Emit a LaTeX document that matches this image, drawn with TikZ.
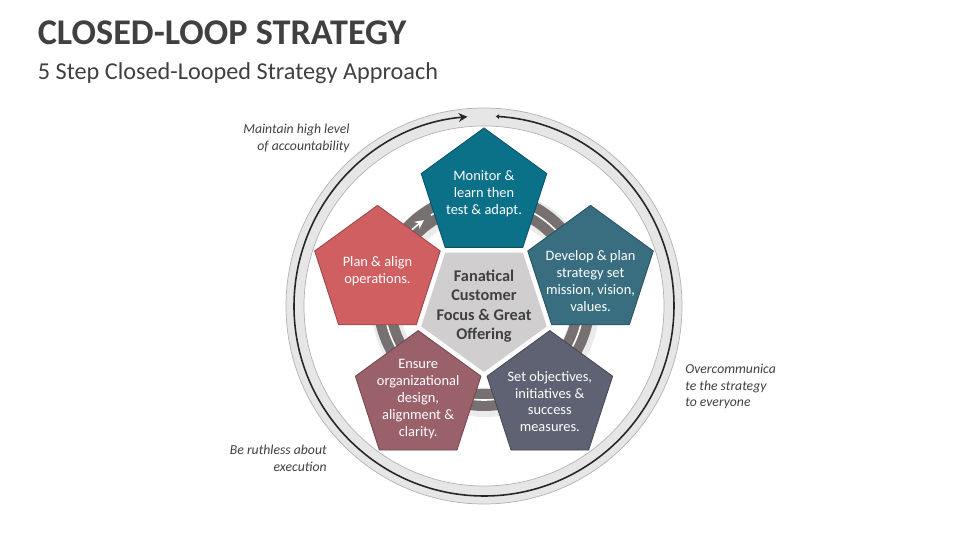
\documentclass[tikz,border=0pt]{standalone}
\usepackage{fontspec}
\setmainfont{Carlito}
\usepackage{xcolor}
\usetikzlibrary{shapes.geometric, arrows.meta, positioning}

\definecolor{titlegray}{HTML}{404040}
\definecolor{monitorteal}{HTML}{0B7189}
\definecolor{developblue}{HTML}{386E80}
\definecolor{objslate}{HTML}{5F6272}
\definecolor{ensuremauve}{HTML}{9A616A}
\definecolor{planred}{HTML}{CF5F61}
\definecolor{corefill}{HTML}{D0CECE}
\definecolor{ringgray}{HTML}{767170}
\definecolor{bandgray}{HTML}{E7E6E6}

\tikzset{
    petal/.style={regular polygon, regular polygon sides=5, minimum size=2.64cm,
        inner sep=0pt, fill=#1, draw=#1!75!black, line width=0.5pt},
    petaltext/.style={text=white, align=center, inner sep=0pt,
        font=\fontsize{8.2}{9.6}\selectfont},
    sidenote/.style={text=titlegray, inner sep=0pt,
        font=\fontsize{7.8}{9.4}\selectfont\itshape}
}

\begin{document}
\begin{tikzpicture}[>=Stealth]
    \useasboundingbox (-9.68,-4.68) rectangle (9.52,6.12);

    % 1. Tiêu đề
    \node[anchor=base west, inner sep=0pt, text=titlegray,
        font=\fontsize{20.6}{24}\selectfont\bfseries] (title) at (-8.93,5.22) {CLOSED-LOOP STRATEGY};
    \node[anchor=base west, inner sep=0pt, text=titlegray,
        font=\fontsize{13.8}{16}\selectfont] (subtitle) at (-8.93,4.53) {5 Step Closed-Looped Strategy Approach};

    % 2. Vòng ngoài
    \draw[black!30, fill=bandgray, line width=0.4pt] (0,0) circle (3.96);
    \draw[black!30, fill=white, line width=0.4pt] (0,0) circle (3.6);
    \draw[black!85, line width=0.9pt, {Latex[length=2pt,width=3pt]}-{Stealth[length=5pt,width=5pt]}]
        (86.5:3.8) arc[start angle=86.5, end angle=-265, radius=3.8];

    % 3. Vòng trong
    \coordinate (ringc) at (0,0.12);
    \draw[black!8, line width=0.58cm] ([shift={(0.03,-0.05)}]ringc) circle (2.0);
    \draw[ringgray, line width=0.44cm] (ringc) circle (2.0);
    \draw[white, line width=0.9pt, -{Stealth[length=5pt,width=5pt]}]
        ([shift={(122:2.0)}]ringc) arc[start angle=482, end angle=127, radius=2.0];

    % 4. Các ngũ giác
    \node[regular polygon, regular polygon sides=5, shape border rotate=180,
        minimum size=2.64cm, inner sep=0pt, fill=corefill] (core) at (0,0) {};
    \node[petal=monitorteal] (monitor) at (90:2.24) {};
    \node[petal=developblue] (develop) at (18:2.24) {};
    \node[petal=objslate] (objectives) at (-54:2.24) {};
    \node[petal=ensuremauve] (ensure) at (-126:2.24) {};
    \node[petal=planred] (plan) at (162:2.24) {};

    % 5. Chữ
    \node[align=center, inner sep=0pt, text=titlegray,
        font=\fontsize{9.3}{11}\selectfont\bfseries] (coretext) at (core) {Fanatical\\Customer\\Focus \& Great\\Offering};
    \node[petaltext] (monitortext) at (monitor) {Monitor \&\\learn then\\test \& adapt.};
    \node[petaltext] (developtext) at ([yshift=-0.19cm]develop.center) {Develop \& plan\\strategy set\\mission, vision,\\values.};
    \node[petaltext] (objectivestext) at ([yshift=-0.1cm]objectives.center) {Set objectives,\\initiatives \&\\success\\measures.};
    \node[petaltext] (ensuretext) at ([yshift=-0.05cm]ensure.center) {Ensure\\organizational\\design,\\alignment \&\\clarity.};
    \node[petaltext] (plantext) at (plan) {Plan \& align\\operations.};

    % 6. Ghi chú
    \node[sidenote, align=right, anchor=north east] (notetop) at (-2.68,3.64) {Maintain high level\\of accountability};
    \node[sidenote, align=left, anchor=north west] (noteright) at (4.02,-1.16) {Overcommunica\\te the strategy\\to everyone};
    \node[sidenote, align=right, anchor=north east] (noteleft) at (-3.14,-2.78) {Be ruthless about\\execution};
\end{tikzpicture}
\end{document}
